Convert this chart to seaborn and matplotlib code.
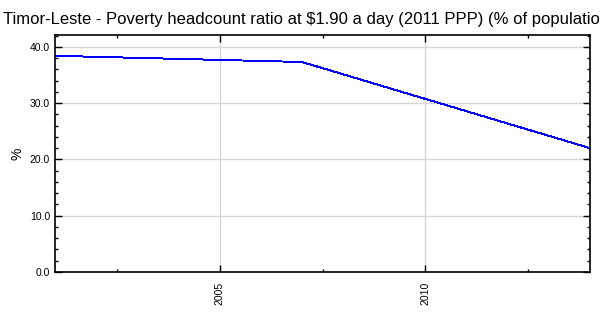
import matplotlib
matplotlib.use("Agg")
import matplotlib.pyplot as plt
from matplotlib.ticker import MultipleLocator, FormatStrFormatter
import seaborn as sns
import pandas as pd

# poverty headcount ratio, Timor-Leste
years = [2001, 2007, 2014]
values = [38.4, 37.3, 22.0]
title = "Timor-Leste - Poverty headcount ratio at $1.90 a day (2011 PPP) (% of population)"

df = pd.DataFrame({"year": years, "value": values})

sns.set_style("white")
plt.rcParams["font.family"] = ["Liberation Sans", "DejaVu Sans"]
plt.rcParams["text.color"] = "black"
plt.rcParams["axes.labelcolor"] = "black"

fig = plt.figure(figsize=(6, 3.15), dpi=100)
ax = fig.add_axes([0.0917, 0.1365, 0.8916, 0.7525])

sns.lineplot(data=df, x="year", y="value", ax=ax, color="#0000ff", lw=0.7, antialiased=False)

ax.set_xlim(2001, 2014)
ax.set_ylim(0, 42.1)
ax.xaxis.set_major_locator(MultipleLocator(5))
ax.xaxis.set_minor_locator(MultipleLocator(2.5))
ax.yaxis.set_major_locator(MultipleLocator(10))
ax.yaxis.set_minor_locator(MultipleLocator(2))
ax.yaxis.set_major_formatter(FormatStrFormatter("%.1f"))

ax.grid(True, which="major", color="#d6d6d6", lw=1)
ax.tick_params(which="both", direction="in", top=True, right=True, left=True, bottom=True,
               labelsize=7.5, colors="black")
ax.tick_params(which="major", length=5, width=1)
ax.tick_params(which="minor", length=2.5, width=1)
ax.tick_params(axis="x", which="major", pad=7)
plt.setp(ax.get_xticklabels(), rotation=90)
for s in ax.spines.values():
    s.set_color("black")
    s.set_linewidth(1.2)

ax.set_xlabel("")
ax.set_ylabel("%", fontsize=10)
# title runs off the right edge, as in the source image
fig.text(0.005, 0.925, title, fontsize=12, ha="left", va="baseline")

fig.savefig("out.png", dpi=100)
